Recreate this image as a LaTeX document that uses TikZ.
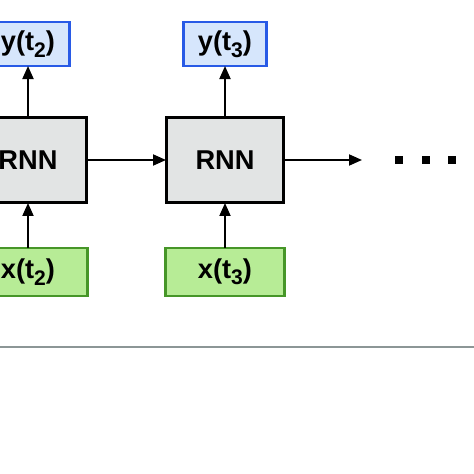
\documentclass[tikz,border=0pt]{standalone}
\usepackage{fontspec}
\setmainfont{Liberation Sans}
\usetikzlibrary{positioning,arrows.meta}

\definecolor{outblue}{RGB}{40,90,230}
\definecolor{outfill}{RGB}{214,230,252}
\definecolor{inpgreen}{RGB}{70,150,40}
\definecolor{inpfill}{RGB}{183,236,150}
\definecolor{cellfill}{RGB}{226,228,228}
\definecolor{rulegray}{RGB}{140,150,150}

\newcommand{\tsub}[1]{\raisebox{-0.45ex}{\fontsize{12}{12}\selectfont #1}}

\tikzset{
  cell/.style={draw=black, line width=1.7pt, fill=cellfill, minimum width=2.36cm,
    minimum height=1.72cm, outer sep=0pt, font=\fontsize{15.5}{17}\selectfont\bfseries},
  outbox/.style={draw=outblue, line width=1.2pt, fill=outfill, minimum width=1.66cm,
    minimum height=0.88cm, outer sep=0pt, font=\fontsize{15.5}{17}\selectfont\bfseries},
  inbox/.style={draw=inpgreen, line width=1.5pt, fill=inpfill, minimum width=2.38cm,
    minimum height=0.96cm, outer sep=0pt, font=\fontsize{15.5}{17}\selectfont\bfseries},
}

\begin{document}
\begin{tikzpicture}[x=0.02cm, y=0.02cm, >={Triangle[length=2.6mm,width=2.2mm]}]
    \clip (0,0) rectangle (474,474);
    \fill[white] (0,0) rectangle (474,474);

    \node[cell] (rnn2) at (28,314) {RNN};
    \node[cell] (rnn3) at (225,314) {RNN};

    \node[outbox, above=1.02cm of rnn2] (y2) {y(t\tsub{2})};
    \node[outbox, above=1.02cm of rnn3] (y3) {y(t\tsub{3})};
    \node[inbox, below=0.9cm of rnn2] (x2) {x(t\tsub{2})};
    \node[inbox, below=0.9cm of rnn3] (x3) {x(t\tsub{3})};

    \coordinate (next) at (362,314);

    \draw[->, line width=1.1pt] (x2) -- (rnn2);
    \draw[->, line width=1.1pt] (x3) -- (rnn3);
    \draw[->, line width=1.1pt] (rnn2) -- (y2);
    \draw[->, line width=1.1pt] (rnn3) -- (y3);
    \draw[->, line width=1.1pt] (rnn2) -- (rnn3);
    \draw[->, line width=1.1pt] (rnn3) -- (next);

    % the chain goes on
    \foreach \dx in {399,426,452}
        \fill (\dx-4,310) rectangle (\dx+4,318);

    \draw[rulegray, line width=1.5pt] (0,127) -- (474,127);
\end{tikzpicture}
\end{document}
